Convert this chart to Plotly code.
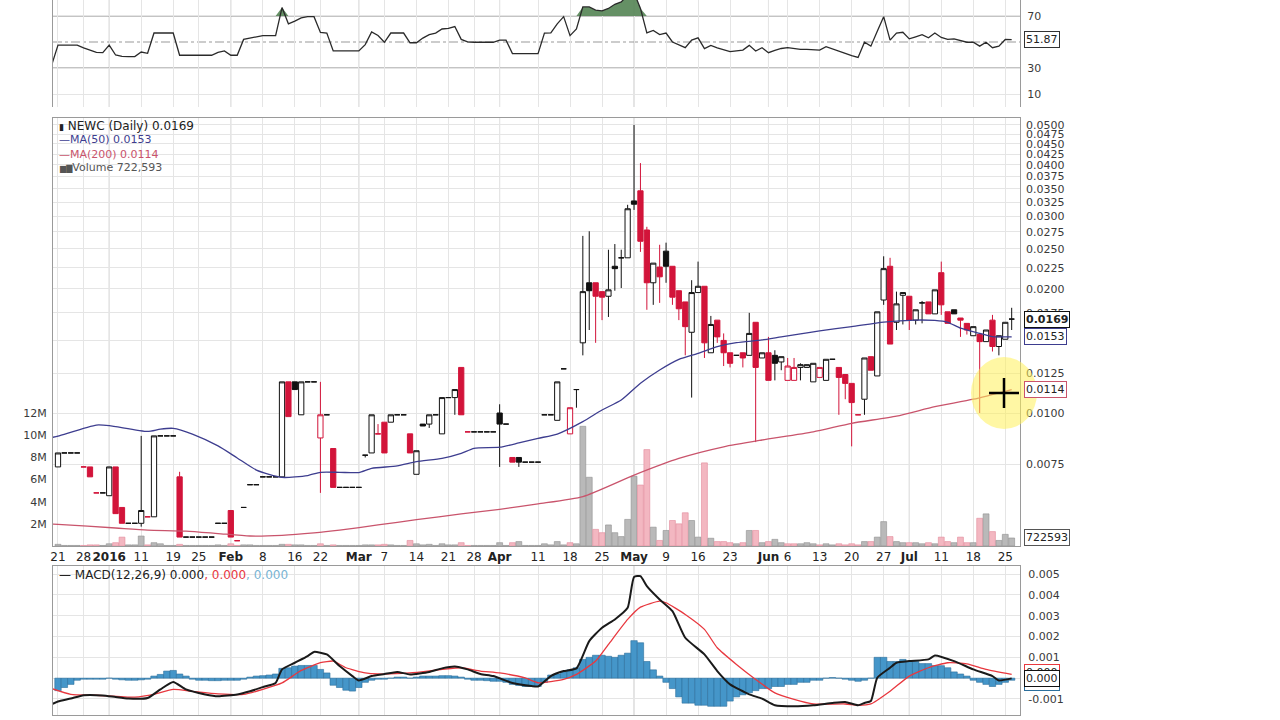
import numpy as np
import pandas as pd
import plotly.graph_objects as go

# ---------------- calendar ----------------
HOLIDAYS = ["2015-12-25", "2016-01-01", "2016-01-18", "2016-02-15",
            "2016-03-25", "2016-05-30", "2016-07-04"]
SESSIONS = [d.strftime("%Y-%m-%d") for d in pd.bdate_range("2015-12-18", "2016-07-26")
            if d.strftime("%Y-%m-%d") not in HOLIDAYS]
CANDLE_DATES = SESSIONS[1:]          # 2015-12-21 .. 2016-07-26

TICK_DATES = ["2015-12-21", "2015-12-28", "2016-01-04", "2016-01-11", "2016-01-19", "2016-01-25",
              "2016-02-01", "2016-02-08", "2016-02-16", "2016-02-22", "2016-03-01", "2016-03-07",
              "2016-03-14", "2016-03-21", "2016-03-28", "2016-04-01", "2016-04-11", "2016-04-18",
              "2016-04-25", "2016-05-02", "2016-05-09", "2016-05-16", "2016-05-23", "2016-06-01",
              "2016-06-06", "2016-06-13", "2016-06-20", "2016-06-27", "2016-07-01", "2016-07-11",
              "2016-07-18", "2016-07-25"]
TICK_TEXT = ["21", "28", "2016", "11", "19", "25", "Feb", "8", "16", "22", "Mar", "7",
             "14", "21", "28", "Apr", "11", "18", "25", "May", "9", "16", "23", "Jun",
             "6", "13", "20", "27", "Jul", "11", "18", "25"]
MONTH_LABELS = ["2016", "Feb", "Mar", "Apr", "May", "Jun", "Jul"]

# ---------------- price (NEWC daily) ----------------
OPEN = [0.0074, 0.0080, 0.0080, 0.0080, 0.0074, 0.0074, 0.0064, 0.0064, 0.0063, 0.0074,
        0.0059, 0.0054, 0.0054, 0.0054, 0.0056, 0.0056, 0.0088, 0.0088, 0.0088, 0.0070,
        0.0050, 0.0050, 0.0050, 0.0050, 0.0050, 0.0054, 0.0054, 0.0058, 0.0049, 0.0059,
        0.0067, 0.0067, 0.0070, 0.0070, 0.0070, 0.0070, 0.0119, 0.0119, 0.0099, 0.0119,
        0.0119, 0.0087, 0.0099, 0.0082, 0.0066, 0.0066, 0.0066, 0.0066, 0.0079, 0.0080,
        0.0089, 0.0095, 0.0095, 0.0099, 0.0099, 0.0089, 0.0071, 0.0094, 0.0094, 0.0099,
        0.0089, 0.0109, 0.0109, 0.0129, 0.0090, 0.0090, 0.0090, 0.0090, 0.0090, 0.0100,
        0.0094, 0.0078, 0.0078, 0.0076, 0.0076, 0.0076, 0.0099, 0.0099, 0.0096, 0.0128,
        0.0089, 0.0114, 0.0148, 0.0207, 0.0207, 0.0197, 0.0192, 0.0227, 0.0238, 0.0238,
        0.0327, 0.0346, 0.0278, 0.0207, 0.0226, 0.0247, 0.0227, 0.0198, 0.0186, 0.0157,
        0.0196, 0.0203, 0.0140, 0.0168, 0.0150, 0.0140, 0.0138, 0.0140, 0.0138, 0.0166,
        0.0136, 0.0140, 0.0138, 0.0133, 0.0120, 0.0120, 0.0129, 0.0129, 0.0119, 0.0122,
        0.0120, 0.0135, 0.0129, 0.0124, 0.0118, 0.0099, 0.0108, 0.0137, 0.0123, 0.0188,
        0.0227, 0.0166, 0.0193, 0.0192, 0.0168, 0.0185, 0.0186, 0.0174, 0.0219, 0.0176,
        0.0178, 0.0170, 0.0165, 0.0154, 0.0155, 0.0149, 0.0168, 0.0145, 0.0151, 0.0169]
HIGH = [0.0080, 0.0080, 0.0080, 0.0080, 0.0074, 0.0074, 0.0064, 0.0064, 0.0074, 0.0074,
        0.0059, 0.0054, 0.0054, 0.0088, 0.0056, 0.0088, 0.0088, 0.0088, 0.0088, 0.0072,
        0.0050, 0.0050, 0.0050, 0.0050, 0.0050, 0.0054, 0.0054, 0.0058, 0.0049, 0.0059,
        0.0067, 0.0067, 0.0070, 0.0070, 0.0070, 0.0119, 0.0119, 0.0119, 0.0119, 0.0119,
        0.0119, 0.0119, 0.0099, 0.0082, 0.0066, 0.0066, 0.0066, 0.0066, 0.0079, 0.0099,
        0.0094, 0.0095, 0.0099, 0.0099, 0.0099, 0.0089, 0.0081, 0.0094, 0.0099, 0.0099,
        0.0109, 0.0109, 0.0114, 0.0129, 0.0090, 0.0090, 0.0090, 0.0090, 0.0090, 0.0105,
        0.0094, 0.0078, 0.0078, 0.0076, 0.0076, 0.0076, 0.0099, 0.0099, 0.0119, 0.0128,
        0.0103, 0.0114, 0.0269, 0.0276, 0.0207, 0.0197, 0.0249, 0.0257, 0.0249, 0.0320,
        0.0500, 0.0404, 0.0283, 0.0231, 0.0256, 0.0259, 0.0227, 0.0198, 0.0186, 0.0210,
        0.0233, 0.0203, 0.0172, 0.0168, 0.0156, 0.0140, 0.0138, 0.0140, 0.0175, 0.0166,
        0.0140, 0.0153, 0.0142, 0.0137, 0.0136, 0.0136, 0.0132, 0.0131, 0.0132, 0.0129,
        0.0135, 0.0135, 0.0129, 0.0124, 0.0118, 0.0099, 0.0136, 0.0137, 0.0176, 0.0240,
        0.0238, 0.0197, 0.0196, 0.0192, 0.0178, 0.0187, 0.0186, 0.0199, 0.0233, 0.0176,
        0.0178, 0.0170, 0.0165, 0.0162, 0.0155, 0.0159, 0.0173, 0.0154, 0.0166, 0.0180]
LOW = [0.0074, 0.0080, 0.0080, 0.0080, 0.0074, 0.0070, 0.0064, 0.0064, 0.0063, 0.0057,
       0.0054, 0.0054, 0.0054, 0.0053, 0.0056, 0.0056, 0.0088, 0.0088, 0.0088, 0.0050,
       0.0050, 0.0050, 0.0050, 0.0050, 0.0050, 0.0054, 0.0054, 0.0050, 0.0049, 0.0059,
       0.0067, 0.0067, 0.0070, 0.0070, 0.0070, 0.0070, 0.0098, 0.0114, 0.0099, 0.0119,
       0.0119, 0.0064, 0.0099, 0.0066, 0.0066, 0.0066, 0.0066, 0.0066, 0.0078, 0.0080,
       0.0089, 0.0080, 0.0095, 0.0099, 0.0099, 0.0080, 0.0071, 0.0093, 0.0092, 0.0099,
       0.0089, 0.0109, 0.0099, 0.0099, 0.0090, 0.0090, 0.0090, 0.0090, 0.0090, 0.0074,
       0.0094, 0.0076, 0.0074, 0.0076, 0.0076, 0.0076, 0.0099, 0.0099, 0.0096, 0.0128,
       0.0089, 0.0103, 0.0138, 0.0159, 0.0148, 0.0168, 0.0171, 0.0198, 0.0201, 0.0238,
       0.0311, 0.0246, 0.0178, 0.0183, 0.0185, 0.0207, 0.0183, 0.0168, 0.0138, 0.0109,
       0.0196, 0.0136, 0.0140, 0.0148, 0.0130, 0.0129, 0.0138, 0.0129, 0.0138, 0.0085,
       0.0136, 0.0120, 0.0120, 0.0127, 0.0120, 0.0120, 0.0120, 0.0129, 0.0119, 0.0122,
       0.0120, 0.0135, 0.0099, 0.0108, 0.0083, 0.0099, 0.0099, 0.0127, 0.0123, 0.0183,
       0.0147, 0.0159, 0.0164, 0.0159, 0.0164, 0.0165, 0.0174, 0.0174, 0.0173, 0.0165,
       0.0174, 0.0153, 0.0155, 0.0154, 0.0100, 0.0149, 0.0141, 0.0138, 0.0151, 0.0159]
CLOSE = [0.0080, 0.0080, 0.0080, 0.0080, 0.0074, 0.0070, 0.0064, 0.0064, 0.0074, 0.0057,
         0.0054, 0.0054, 0.0054, 0.0058, 0.0056, 0.0088, 0.0088, 0.0088, 0.0088, 0.0050,
         0.0050, 0.0050, 0.0050, 0.0050, 0.0050, 0.0054, 0.0054, 0.0050, 0.0049, 0.0059,
         0.0067, 0.0067, 0.0070, 0.0070, 0.0070, 0.0119, 0.0098, 0.0114, 0.0119, 0.0119,
         0.0119, 0.0099, 0.0099, 0.0066, 0.0066, 0.0066, 0.0066, 0.0066, 0.0079, 0.0099,
         0.0089, 0.0080, 0.0099, 0.0099, 0.0099, 0.0080, 0.0081, 0.0093, 0.0099, 0.0099,
         0.0109, 0.0109, 0.0114, 0.0099, 0.0090, 0.0090, 0.0090, 0.0090, 0.0090, 0.0094,
         0.0094, 0.0076, 0.0076, 0.0076, 0.0076, 0.0076, 0.0099, 0.0099, 0.0119, 0.0128,
         0.0103, 0.0114, 0.0197, 0.0198, 0.0192, 0.0191, 0.0199, 0.0224, 0.0238, 0.0313,
         0.0321, 0.0261, 0.0207, 0.0231, 0.0214, 0.0227, 0.0191, 0.0179, 0.0162, 0.0196,
         0.0203, 0.0148, 0.0164, 0.0153, 0.0140, 0.0132, 0.0138, 0.0136, 0.0156, 0.0129,
         0.0140, 0.0120, 0.0132, 0.0137, 0.0130, 0.0129, 0.0131, 0.0131, 0.0132, 0.0129,
         0.0135, 0.0135, 0.0122, 0.0118, 0.0106, 0.0099, 0.0136, 0.0127, 0.0176, 0.0224,
         0.0147, 0.0184, 0.0196, 0.0168, 0.0178, 0.0185, 0.0174, 0.0199, 0.0183, 0.0165,
         0.0174, 0.0168, 0.0159, 0.0162, 0.0149, 0.0159, 0.0145, 0.0154, 0.0166, 0.0169]
VOLUME_M = [0.15, 0.05, 0.05, 0.05, 0.05, 0.10, 0.10, 0.05, 0.20, 0.30,
            0.80, 0.10, 0.10, 0.90, 0.10, 0.30, 0.20, 0.05, 0.05, 0.15,
            0.05, 0.05, 0.05, 0.05, 0.05, 0.10, 0.05, 0.20, 0.05, 0.10,
            0.10, 0.05, 0.05, 0.05, 0.05, 0.15, 0.15, 0.10, 0.10, 0.05,
            0.05, 0.20, 0.05, 0.10, 0.05, 0.05, 0.05, 0.05, 0.10, 0.10,
            0.10, 0.15, 0.10, 0.05, 0.05, 0.50, 0.20, 0.10, 0.15, 0.05,
            0.20, 0.10, 0.10, 0.30, 0.05, 0.05, 0.05, 0.05, 0.05, 0.30,
            0.05, 0.30, 0.40, 0.05, 0.05, 0.05, 0.20, 0.10, 0.40, 0.10,
            0.30, 0.20, 10.8, 6.2, 1.5, 1.2, 1.9, 1.2, 0.85, 2.4,
            6.3, 5.5, 8.7, 1.7, 0.5, 1.4, 2.3, 2.0, 3.0, 2.3,
            0.8, 7.5, 0.7, 0.4, 0.4, 0.3, 0.2, 0.3, 1.4, 1.4,
            0.3, 0.4, 0.6, 0.3, 0.2, 0.2, 0.2, 0.3, 0.2, 0.1,
            0.2, 0.1, 0.2, 0.1, 0.2, 0.1, 0.4, 0.4, 0.8, 2.2,
            0.85, 0.4, 0.3, 0.3, 0.3, 0.2, 0.3, 0.2, 0.8, 0.4,
            0.3, 0.8, 0.3, 0.3, 2.5, 2.9, 1.3, 0.5, 1.05, 0.722593]

# ---------------- moving averages (read at sample dates) ----------------
MA50_DATES = ["2015-12-18", "2015-12-21", "2015-12-30", "2016-01-04", "2016-01-12", "2016-01-14",
              "2016-01-19", "2016-01-22", "2016-01-28", "2016-02-02", "2016-02-05", "2016-02-11",
              "2016-02-18", "2016-02-22", "2016-02-25", "2016-03-01", "2016-03-03", "2016-03-09",
              "2016-03-14", "2016-03-18", "2016-03-23", "2016-03-28", "2016-04-01", "2016-04-06",
              "2016-04-11", "2016-04-14", "2016-04-20", "2016-04-25", "2016-04-28", "2016-05-03",
              "2016-05-06", "2016-05-11", "2016-05-16", "2016-05-19", "2016-05-24", "2016-05-31",
              "2016-06-03", "2016-06-08", "2016-06-13", "2016-06-20", "2016-06-27", "2016-07-05",
              "2016-07-08", "2016-07-12", "2016-07-14", "2016-07-19", "2016-07-21", "2016-07-26"]
MA50 = [0.00872, 0.00879, 0.00935, 0.00932, 0.00902, 0.00914, 0.00918, 0.00889, 0.00832, 0.00778,
        0.00727, 0.00698, 0.00705, 0.00718, 0.00718, 0.00717, 0.00734, 0.00744, 0.00762, 0.00776,
        0.00798, 0.00821, 0.00826, 0.00846, 0.00868, 0.00889, 0.00953, 0.01017, 0.01075, 0.01181,
        0.01272, 0.01350, 0.01396, 0.01448, 0.01481, 0.01504, 0.01530, 0.01555, 0.01582, 0.01620,
        0.01662, 0.01681, 0.01677, 0.01660, 0.01607, 0.01561, 0.01532, 0.01530]
MA200_DATES = ["2015-12-18", "2015-12-21", "2016-01-05", "2016-01-12", "2016-01-21", "2016-01-28",
               "2016-02-04", "2016-02-11", "2016-02-19", "2016-02-25", "2016-03-04", "2016-03-14",
               "2016-03-23", "2016-04-01", "2016-04-11", "2016-04-20", "2016-05-02", "2016-05-11",
               "2016-05-20", "2016-05-31", "2016-06-10", "2016-06-20", "2016-06-29", "2016-07-08",
               "2016-07-18", "2016-07-26"]
MA200 = [0.00538, 0.00537, 0.00526, 0.00520, 0.00517, 0.00510, 0.00503, 0.00505, 0.00512, 0.00520,
         0.00535, 0.00551, 0.00569, 0.00584, 0.00602, 0.00627, 0.00707, 0.00776, 0.00828, 0.00860,
         0.00900, 0.00944, 0.00983, 0.01036, 0.01080, 0.01140]

# ---------------- RSI(14), one value per session from 2015-12-18 ----------------
RSI = [32.0,
       47.6, 47.6, 47.6, 47.6, 45.5, 43.5, 42.0, 41.8, 47.6, 40.0,
       39.0, 38.8, 38.8, 42.3, 41.3, 56.9, 56.9, 56.9, 56.9, 39.8,
       39.8, 39.8, 39.8, 39.8, 39.8, 42.0, 43.1, 39.8, 39.8, 52.0,
       53.0, 54.4, 54.9, 54.9, 54.9, 76.5, 64.0, 66.0, 68.5, 69.5,
       69.5, 57.4, 56.9, 43.1, 43.1, 43.1, 43.1, 43.1, 48.0, 57.7,
       55.0, 49.8, 56.9, 56.9, 56.9, 49.4, 49.4, 53.0, 55.7, 56.9,
       60.0, 60.5, 61.9, 52.0, 50.1, 49.8, 49.8, 49.8, 49.8, 51.4,
       51.4, 41.1, 41.1, 41.1, 41.1, 41.1, 56.9, 57.0, 64.0, 69.5,
       54.9, 60.0, 77.0, 77.0, 74.5, 74.0, 75.8, 79.0, 80.8, 86.0,
       88.0, 75.8, 57.0, 58.9, 55.7, 56.9, 50.0, 47.5, 45.6, 51.5,
       53.2, 44.9, 47.4, 45.5, 44.0, 42.6, 43.2, 43.8, 47.4, 43.1,
       45.6, 41.8, 43.5, 45.0, 45.6, 45.0, 44.3, 44.3, 44.0, 43.8,
       46.4, 44.9, 43.0, 41.3, 39.5, 38.1, 49.8, 46.8, 58.2, 69.5,
       51.4, 56.9, 57.5, 52.4, 54.0, 55.7, 53.2, 56.9, 53.5, 52.0,
       52.4, 51.0, 49.8, 49.8, 46.8, 49.8, 45.6, 46.8, 51.9, 51.87]

# ---------------- MACD(12,26,9) ----------------
MACD_DATES = ["2015-12-18", "2015-12-21", "2015-12-23", "2015-12-28", "2015-12-31", "2016-01-05",
              "2016-01-07", "2016-01-12", "2016-01-14", "2016-01-19", "2016-01-21", "2016-01-26",
              "2016-01-28", "2016-02-02", "2016-02-04", "2016-02-08", "2016-02-10", "2016-02-11",
              "2016-02-16", "2016-02-18", "2016-02-19", "2016-02-23", "2016-02-25", "2016-02-29",
              "2016-03-01", "2016-03-03", "2016-03-07", "2016-03-09", "2016-03-11", "2016-03-16",
              "2016-03-18", "2016-03-22", "2016-03-24", "2016-03-29", "2016-03-31", "2016-04-05",
              "2016-04-08", "2016-04-11", "2016-04-13", "2016-04-15", "2016-04-19", "2016-04-21",
              "2016-04-25", "2016-04-27", "2016-04-29", "2016-05-02", "2016-05-03", "2016-05-04",
              "2016-05-06", "2016-05-10", "2016-05-12", "2016-05-17", "2016-05-19", "2016-05-23",
              "2016-05-26", "2016-05-31", "2016-06-02", "2016-06-07", "2016-06-10", "2016-06-15",
              "2016-06-17", "2016-06-21", "2016-06-22", "2016-06-23", "2016-06-24", "2016-06-28",
              "2016-06-29", "2016-07-01", "2016-07-07", "2016-07-08", "2016-07-13", "2016-07-18",
              "2016-07-21", "2016-07-22", "2016-07-26"]
MACD = [-0.00125, -0.00112, -0.00098, -0.00082, -0.00083, -0.00091, -0.00098, -0.00095, -0.00054,
        -0.00018, -0.00054, -0.00078, -0.00087, -0.00078, -0.00063, -0.00043, -0.00023, 0.00042,
        0.00074, 0.00106, 0.00126, 0.00114, 0.00058, 0.00010, -0.00011, 0.00010, 0.00020, 0.00030,
        0.00018, 0.00030, 0.00047, 0.00056, 0.00042, 0.00020, 0.00010, -0.00023, -0.00038, -0.00040,
        0.00010, 0.00034, 0.00047, 0.00178, 0.00242, 0.00282, 0.00338, 0.00486, 0.00490, 0.00442,
        0.00378, 0.00322, 0.00194, 0.00114, 0.00034, -0.00030, -0.00078, -0.00098, -0.00130, -0.00135,
        -0.00130, -0.00119, -0.00114, -0.00130, -0.00119, -0.00110, 0.00002, 0.00050, 0.00074, 0.00082,
        0.00090, 0.00109, 0.00082, 0.00042, 0.00010, -0.00011, -0.00001]
SIGNAL_DATES = ["2015-12-18", "2015-12-23", "2015-12-30", "2016-01-08", "2016-01-13", "2016-01-19",
                "2016-01-22", "2016-01-28", "2016-02-03", "2016-02-08", "2016-02-11", "2016-02-17",
                "2016-02-22", "2016-02-24", "2016-02-26", "2016-03-02", "2016-03-04", "2016-03-11",
                "2016-03-18", "2016-03-23", "2016-03-29", "2016-04-01", "2016-04-07", "2016-04-11",
                "2016-04-15", "2016-04-19", "2016-04-22", "2016-04-26", "2016-04-29", "2016-05-03",
                "2016-05-06", "2016-05-09", "2016-05-12", "2016-05-17", "2016-05-19", "2016-05-24",
                "2016-05-27", "2016-06-02", "2016-06-07", "2016-06-10", "2016-06-17", "2016-06-21",
                "2016-06-23", "2016-06-28", "2016-07-01", "2016-07-07", "2016-07-12", "2016-07-15",
                "2016-07-20", "2016-07-26"]
SIGNAL = [-0.00050, -0.00078, -0.00082, -0.00091, -0.00078, -0.00054, -0.00063, -0.00075, -0.00078,
          -0.00054, -0.00023, 0.00037, 0.00074, 0.00082, 0.00050, 0.00025, 0.00020, 0.00025, 0.00042,
          0.00050, 0.00034, 0.00025, 0.00001, -0.00022, -0.00006, 0.00018, 0.00082, 0.00162, 0.00282,
          0.00341, 0.00370, 0.00362, 0.00306, 0.00234, 0.00146, 0.00066, -0.00006, -0.00071, -0.00102,
          -0.00124, -0.00124, -0.00130, -0.00124, -0.00063, 0.00010, 0.00050, 0.00074, 0.00069, 0.00042,
          0.00018]
HIST = [-0.0006, -0.00045, -0.0003, -0.0001, -0.00005, -0.00005, -0.00005, -0.00005, 0.0, -0.00005,
        -0.00008, -0.0001, -0.0001, -0.00008, -0.00005, 0.0001, 0.00018, 0.00034, 0.00037, 0.0002,
        0.0001, -0.00005, -0.0001, -0.0001, -0.00012, -0.00012, -0.0001, -0.0001, -0.0001, -0.00005,
        0.00005, 0.0001, 0.00012, 0.00015, 0.0002, 0.00047, 0.0005, 0.00058, 0.00061, 0.00061,
        0.00061, 0.00042, 0.00025, -0.00034, -0.00045, -0.00058, -0.00062, -0.00045, -0.0002, -0.0001,
        -0.00005, -0.00005, 0.0, 0.00005, 0.00005, 0.0, 0.00005, 0.0001, 0.0001, 0.0001,
        0.00012, 0.00012, 0.0001, 0.00005, -0.00005, -0.0001, -0.0001, -0.00012, -0.00015, -0.00015,
        -0.0002, -0.0003, -0.00035, -0.0004, -0.0004, -0.0004, -0.0002, 0.00015, 0.0002, 0.0003,
        0.0004, 0.0005, 0.0009, 0.001, 0.0011, 0.0011, 0.00105, 0.001, 0.0011, 0.0012,
        0.0018, 0.0017, 0.0008, 0.0004, 0.0001, -0.0002, -0.0005, -0.0009, -0.0012, -0.0012,
        -0.0013, -0.0013, -0.00135, -0.00135, -0.00135, -0.0011, -0.0009, -0.0008, -0.0007, -0.0006,
        -0.0005, -0.0005, -0.0004, -0.0004, -0.0003, -0.0003, -0.0002, -0.0002, -0.0001, -0.0001,
        0.0, 0.00003, 0.0, -0.00005, -0.0001, -0.00015, -0.0001, 0.0, 0.001, 0.001,
        0.0008, 0.0008, 0.0009, 0.0008, 0.0008, 0.0007, 0.0007, 0.0006, 0.0006, 0.0005,
        0.0003, 0.0002, 0.0001, -0.0001, -0.0002, -0.0003, -0.0004, -0.0003, -0.0002, -0.0001]

PRICE_TICKS = [0.0075, 0.0100, 0.0125, 0.0150, 0.0175, 0.0200, 0.0225, 0.0250, 0.0275,
               0.0300, 0.0325, 0.0350, 0.0375, 0.0400, 0.0425, 0.0450, 0.0475, 0.0500]
VOL_TICKS_M = [2, 4, 6, 8, 10, 12]
MACD_TICKS = [0.005, 0.004, 0.003, 0.002, 0.001, 0.000, -0.001]
RSI_TICKS = [10, 30, 70]

# ---------------- build ----------------
pos = {d: i for i, d in enumerate(SESSIONS)}
xc = [pos[d] for d in CANDLE_DATES]
xall = list(range(len(SESSIONS)))
prev_close = [OPEN[0]] + CLOSE[:-1]
up = [c >= p for c, p in zip(CLOSE, prev_close)]

BLACK, RED = "#111111", "#d2143a"
FONT = "DejaVu Sans"
W, H, L, R = 1280, 720, 53, 260


def dom(top, bottom):
    return [1 - bottom / H, 1 - top / H]


def pick(arr, mask):
    return [a for a, m in zip(arr, mask) if m]


def fmt3(v):
    return f"{round(v, 3) + 0.0:.3f}"


fig = go.Figure()

# RSI panel
fig.add_trace(go.Scatter(x=xall, y=[70] * len(xall), mode="lines", line=dict(width=0),
                         hoverinfo="skip", xaxis="x", yaxis="y"))
fig.add_trace(go.Scatter(x=xall, y=np.maximum(np.array(RSI), 70), mode="lines", line=dict(width=0),
                         fill="tonexty", fillcolor="rgba(88,135,88,0.92)", hoverinfo="skip",
                         xaxis="x", yaxis="y"))
fig.add_trace(go.Scatter(x=xall, y=RSI, mode="lines", line=dict(color="#2a2a2a", width=1.3),
                         xaxis="x", yaxis="y"))

# volume (base axis of main panel)
vol_col = ["#b9b9b9" if u else "#f3b7c1" for u in up]
vol_edge = ["#8e8e8e" if u else "#e38a9a" for u in up]
fig.add_trace(go.Bar(x=xc, y=[v * 1e6 for v in VOLUME_M], width=0.92,
                     marker=dict(color=vol_col, line=dict(color=vol_edge, width=0.6)),
                     xaxis="x2", yaxis="y2"))

# moving averages
fig.add_trace(go.Scatter(x=[pos[d] for d in MA200_DATES], y=MA200, mode="lines",
                         line=dict(color="#c9546c", width=1.3, shape="spline", smoothing=0.6),
                         xaxis="x2", yaxis="y3"))
fig.add_trace(go.Scatter(x=[pos[d] for d in MA50_DATES], y=MA50, mode="lines",
                         line=dict(color="#3d3d8f", width=1.3, shape="spline", smoothing=0.6),
                         xaxis="x2", yaxis="y3"))

# candles: black = close >= previous close, red = close < previous close
for mask, col in ((up, BLACK), ([not u for u in up], RED)):
    fig.add_trace(go.Candlestick(
        x=pick(xc, mask), open=pick(OPEN, mask), high=pick(HIGH, mask),
        low=pick(LOW, mask), close=pick(CLOSE, mask),
        increasing=dict(line=dict(color=col, width=1), fillcolor="#ffffff"),
        decreasing=dict(line=dict(color=col, width=1), fillcolor=col),
        whiskerwidth=0, hoverinfo="skip", xaxis="x2", yaxis="y3"))

# MACD panel
fig.add_trace(go.Bar(x=xc, y=HIST, width=1.0,
                     marker=dict(color="#4596c9", line=dict(color="#2c6f9c", width=0.6)),
                     xaxis="x3", yaxis="y4"))
fig.add_trace(go.Scatter(x=[pos[d] for d in SIGNAL_DATES], y=SIGNAL, mode="lines",
                         line=dict(color="#e8383f", width=1.3, shape="spline", smoothing=0.5),
                         xaxis="x3", yaxis="y4"))
fig.add_trace(go.Scatter(x=[pos[d] for d in MACD_DATES], y=MACD, mode="lines",
                         line=dict(color="#1a1a1a", width=2, shape="spline", smoothing=0.5),
                         xaxis="x3", yaxis="y4"))

# ---------------- axes ----------------
XR = [0.22, 151.3]
tickpos = [pos[d] for d in TICK_DATES]
ticklab = [f"<b>{t}</b>" if t in MONTH_LABELS else t for t in TICK_TEXT]
month_pos = [p for p, t in zip(tickpos, TICK_TEXT) if t in MONTH_LABELS]
grid = "#e5e5e5"
frame = "#9a9a9a"
tickfont = dict(family=FONT, size=11, color="#3a3a3a")

common_x = dict(range=XR, tickvals=tickpos, showgrid=True, gridcolor=grid, zeroline=False,
                ticks="", automargin=False, fixedrange=True, tickangle=0)
price_lo, price_hi = 0.004757, 0.05197

fig.update_layout(
    width=W, height=H, template="none",
    margin=dict(l=L, r=R, t=0, b=0, autoexpand=False),
    paper_bgcolor="white", plot_bgcolor="white",
    font=dict(family=FONT, size=11, color="#333"),
    showlegend=False, barmode="overlay", boxgap=0.18, boxgroupgap=0,
    xaxis=dict(domain=[0, 1], anchor="y", showticklabels=False, showline=False, **common_x),
    xaxis2=dict(domain=[0, 1], anchor="y2", ticktext=ticklab, showticklabels=True,
                tickfont=dict(family=FONT, size=12, color="#222"),
                showline=True, mirror=True, linecolor=frame, linewidth=1,
                rangeslider=dict(visible=False), **common_x),
    xaxis3=dict(domain=[0, 1], anchor="y4",
                ticktext=[f"<b>{t}</b>" if t in MONTH_LABELS else "" for t in TICK_TEXT],
                showticklabels=True, tickfont=dict(family=FONT, size=12, color="#222"),
                showline=True, mirror=True, linecolor=frame, linewidth=1,
                rangeslider=dict(visible=False), **common_x),
    yaxis=dict(domain=dom(0, 107), anchor="x", side="right", range=[0, 82.3],
               tickvals=RSI_TICKS, ticktext=[str(t) for t in RSI_TICKS], tickfont=tickfont,
               showgrid=True, gridcolor=grid, zeroline=False, ticks="",
               showline=True, mirror=True, linecolor=frame, automargin=False, ticklabelstandoff=4),
    yaxis2=dict(domain=dom(118, 546), anchor="x2", side="left",
                range=[0, 12e6 * 428 / 133], tickvals=[v * 1e6 for v in VOL_TICKS_M],
                ticktext=[f"{v}M" for v in VOL_TICKS_M], tickfont=tickfont,
                showgrid=False, zeroline=False, ticks="", showline=True, mirror=True,
                linecolor=frame, automargin=False, ticklabelstandoff=3),
    yaxis3=dict(overlaying="y2", anchor="x2", side="right", type="log",
                range=[np.log10(price_lo), np.log10(price_hi)], tickvals=PRICE_TICKS,
                ticktext=[f"{t:.4f}" for t in PRICE_TICKS], tickfont=tickfont,
                showgrid=True, gridcolor=grid, zeroline=False, ticks="",
                automargin=False, ticklabelstandoff=5),
    yaxis4=dict(domain=dom(566, 715), anchor="x3", side="right",
                range=[-0.001769, 0.005385], tickvals=MACD_TICKS,
                ticktext=[f"{t:.3f}" for t in MACD_TICKS], tickfont=tickfont,
                showgrid=True, gridcolor=grid, zeroline=False, ticks="",
                showline=True, mirror=True, linecolor=frame, automargin=False,
                ticklabelstandoff=5),
)

shapes = []
for p in month_pos:
    for xr, yr in (("x", "y domain"), ("x2", "y2 domain"), ("x3", "y4 domain")):
        shapes.append(dict(type="line", xref=xr, yref=yr, x0=p, x1=p, y0=0, y1=1,
                           line=dict(color="#c6c6c6", width=1), layer="below"))
for lvl in (70, 30):
    shapes.append(dict(type="line", xref="x domain", yref="y", x0=0, x1=1, y0=lvl, y1=lvl,
                       line=dict(color="#8a8a8a", width=1.2), layer="below"))
shapes.append(dict(type="line", xref="x domain", yref="y", x0=0, x1=1, y0=50, y1=50,
                   line=dict(color="#9a9a9a", width=1.2, dash="dashdot"), layer="below"))
# yellow cursor highlight (screen-capture pointer)
cx, cy = (1004 - L) / (W - L - R), 1 - 393 / H
shapes.append(dict(type="circle", xref="paper", yref="paper", xsizemode="pixel", ysizemode="pixel",
                   xanchor=cx, yanchor=cy, x0=-33, x1=33, y0=-36, y1=36,
                   fillcolor="rgba(255,240,90,0.55)", line=dict(width=0), layer="above"))
shapes.append(dict(type="line", xref="paper", yref="paper", xsizemode="pixel", ysizemode="pixel",
                   xanchor=cx, yanchor=cy, x0=-15, x1=15, y0=0, y1=0,
                   line=dict(color="#000", width=2.5), layer="above"))
shapes.append(dict(type="line", xref="paper", yref="paper", xsizemode="pixel", ysizemode="pixel",
                   xanchor=cx, yanchor=cy, x0=0, x1=0, y0=-15, y1=15,
                   line=dict(color="#000", width=2.5), layer="above"))
fig.update_layout(shapes=shapes)

ann = []


def txt(text, ypx, color="#222", size=11, xpx=57):
    ann.append(dict(text=text, xref="paper", yref="paper", x=(xpx - L) / (W - L - R),
                    y=1 - ypx / H, xanchor="left", yanchor="middle", showarrow=False,
                    font=dict(family=FONT, size=size, color=color)))


txt(f"<span style='font-size:9px'>▮</span> NEWC (Daily) {CLOSE[-1]:.4f}", 126, "#222", 12)
txt(f"—MA(50) {MA50[-1]:.4f}", 140, "#3d3d8f", 11)
txt(f"—MA(200) {MA200[-1]:.4f}", 154, "#c9546c", 11)
txt(f"<span style='font-size:8px'>▆▇</span>Volume {int(round(VOLUME_M[-1] * 1e6)):,}", 167, "#555", 11)
txt(f"— MACD(12,26,9) {fmt3(MACD[-1])}<span style='color:#e8383f'>, {fmt3(SIGNAL[-1])}</span>"
    f"<span style='color:#79b4d4'>, {fmt3(HIST[-1])}</span>", 575, "#222", 12)


def box(text, yref, yval, border, bold=False, size=11):
    ann.append(dict(text=f"<b>{text}</b>" if bold else text, xref="paper", yref=yref,
                    x=1.004, y=yval, xanchor="left", yanchor="middle", showarrow=False,
                    bgcolor="white", bordercolor=border, borderwidth=1, borderpad=1,
                    font=dict(family=FONT, size=size, color="#222")))


box(f"{RSI[-1]:.2f}", "y", RSI[-1], "#333")
box(f"{MA200[-1]:.4f}", "y3", np.log10(MA200[-1]), "#c9546c")
box(f"{MA50[-1]:.4f}", "y3", np.log10(MA50[-1]), "#3d3d8f")
box(f"{CLOSE[-1]:.4f}", "y3", np.log10(CLOSE[-1]), "#111", bold=True)
box(f"{int(round(VOLUME_M[-1] * 1e6))}", "y2", VOLUME_M[-1] * 1e6, "#555")
box(fmt3(HIST[-1]), "y4", HIST[-1] - 0.0001, "#2c6f9c")
box(fmt3(SIGNAL[-1]), "y4", SIGNAL[-1] + 0.0001, "#e8383f")
box(fmt3(MACD[-1]), "y4", MACD[-1], "#111")
fig.update_layout(annotations=ann)

fig.write_html("out.html")
